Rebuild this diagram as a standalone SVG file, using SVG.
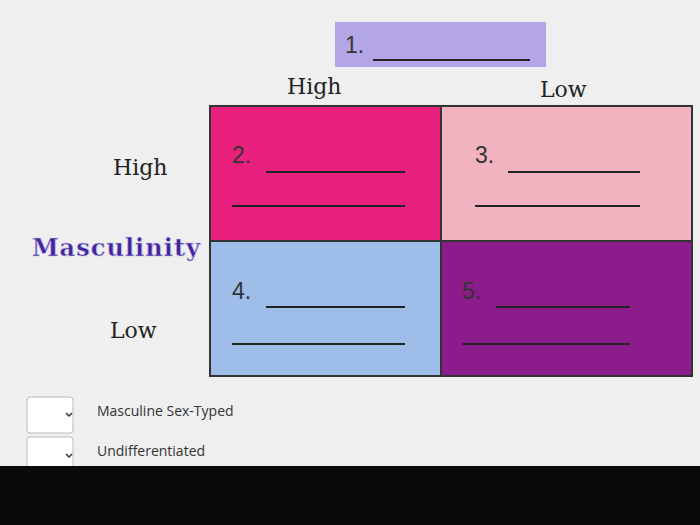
<svg xmlns="http://www.w3.org/2000/svg" width="700" height="525" viewBox="0 0 700 525">
<style>
.s{font-family:"DejaVu Serif","Liberation Serif",serif;font-size:22px;fill:#222}
.n{font-family:"Liberation Sans",Arial,sans-serif;font-size:23px;fill:#333}
.b{stroke:#222;stroke-width:2}
.t{font-family:"Open Sans","Liberation Sans",sans-serif;font-size:14px;fill:#333}
</style>
<rect width="700" height="525" fill="#efefef"/>
<g id="title"><rect x="335" y="22" width="211" height="45" fill="#b4a5e6"/>
<text x="345" y="53" class="n">1.</text><line x1="373" y1="60" x2="530" y2="60" class="b"/></g>
<g id="heads"><text x="287" y="94" class="s">High</text><text x="540" y="97" class="s">Low</text>
<text x="113" y="175" class="s">High</text><text x="110" y="338" class="s">Low</text>
<text x="32" y="256" font-family="DejaVu Serif,serif" font-weight="bold" font-size="24" fill="#43259a" stroke="#c9c0f0" stroke-width="0.6" textLength="168">Masculinity</text></g>
<g id="grid" stroke="#333" stroke-width="2">
<rect x="210" y="106" width="231" height="135" fill="#e8207e"/>
<rect x="441" y="106" width="251" height="135" fill="#f0b3bf"/>
<rect x="210" y="241" width="231" height="135" fill="#9ebde9"/>
<rect x="441" y="241" width="251" height="135" fill="#8c1b8c"/></g>
<g id="cells">
<text x="232" y="163" class="n">2.</text><line x1="266" y1="172" x2="405" y2="172" class="b"/><line x1="232" y1="206" x2="405" y2="206" class="b"/>
<text x="475" y="163" class="n">3.</text><line x1="508" y1="172" x2="640" y2="172" class="b"/><line x1="475" y1="206" x2="640" y2="206" class="b"/>
<text x="232" y="299" class="n">4.</text><line x1="266" y1="307" x2="405" y2="307" class="b"/><line x1="232" y1="344" x2="405" y2="344" class="b"/>
<text x="462" y="299" class="n">5.</text><line x1="496" y1="307" x2="630" y2="307" class="b"/><line x1="462" y1="344" x2="630" y2="344" class="b"/></g>
<g id="dropdowns">
<rect x="27" y="397" width="46" height="36" rx="3" fill="#fff" stroke="#bbb"/>
<path d="M66 413l3 3 3-3" fill="none" stroke="#333" stroke-width="1.5"/>
<text x="97" y="416" class="t">Masculine Sex-Typed</text>
<rect x="27" y="437" width="46" height="36" rx="3" fill="#fff" stroke="#bbb"/>
<path d="M66 454l3 3 3-3" fill="none" stroke="#333" stroke-width="1.5"/>
<text x="97" y="456" class="t">Undifferentiated</text></g>
<rect x="0" y="466" width="700" height="59" fill="#0a0a0a"/>
</svg>
